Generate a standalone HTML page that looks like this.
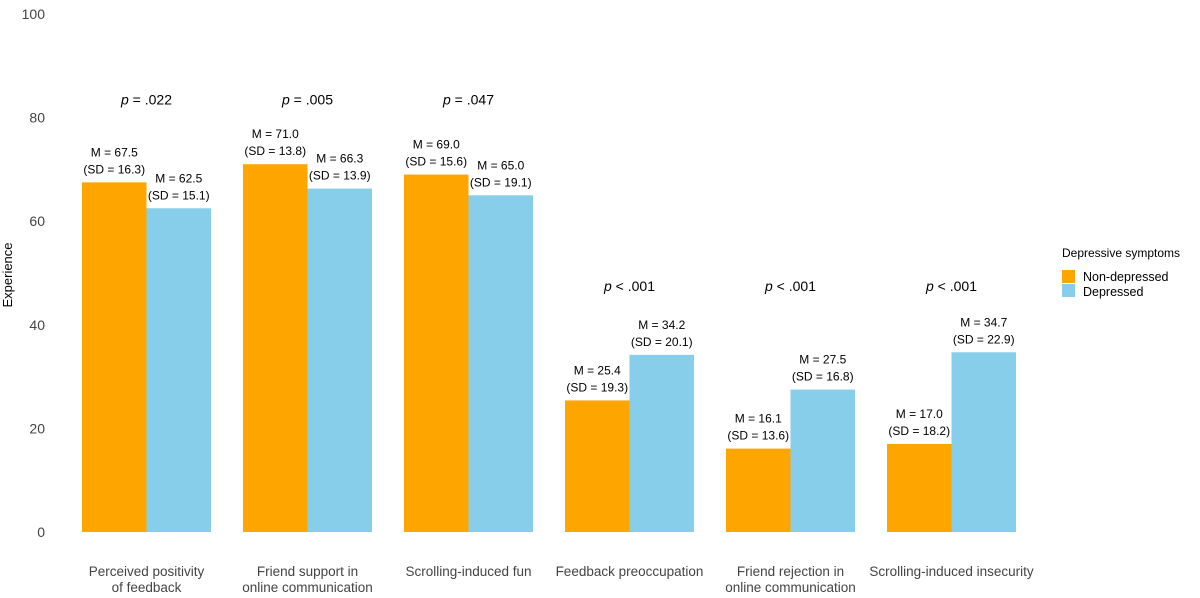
<!DOCTYPE html>
<html><head><meta charset="utf-8"><style>
body{margin:0;background:#fff}
svg{display:block;font-family:"Liberation Sans",Arial,sans-serif}
</style></head><body>
<svg id="chart" width="1200" height="598">
<text x="12" y="275" transform="rotate(-90 12 275)" text-anchor="middle" font-size="13" fill="#000">Experience</text>
<g id="yticks"></g>
<g id="bars"></g>
<g id="labels"></g>
<g>
<text x="1062" y="257" font-size="12" fill="#000">Depressive symptoms</text>
<rect x="1062" y="270" width="13" height="13" fill="#FFA500"/>
<text x="1083" y="281" font-size="12.5" fill="#000">Non-depressed</text>
<rect x="1062" y="284" width="13" height="13" fill="#87CEEB"/>
<text x="1083" y="296" font-size="12.5" fill="#000">Depressed</text>
</g>
</svg>
<script>
const categories=[["Perceived positivity","of feedback"],["Friend support in","online communication"],["Scrolling-induced fun"],["Feedback preoccupation"],["Friend rejection in","online communication"],["Scrolling-induced insecurity"]];
const nonDepMean=[67.5,71.0,69.0,25.4,16.1,17.0];
const nonDepSD=[16.3,13.8,15.6,19.3,13.6,18.2];
const depMean=[62.5,66.3,65.0,34.2,27.5,34.7];
const depSD=[15.1,13.9,19.1,20.1,16.8,22.9];
const pLabels=[".022",".005",".047",".001",".001",".001"];
const pOps=["=","=","=","<","<","<"];
const pLevel=[83.5,83.5,83.5,47.5,47.5,47.5];
const yTicks=[0,20,40,60,80,100];

const NS="http://www.w3.org/2000/svg";
const y=v=>532-5.18*v;
const cx=i=>146.5+i*161;
const bw=64.5;
function mk(tag,attrs,parent){const e=document.createElementNS(NS,tag);for(const k in attrs)e.setAttribute(k,attrs[k]);parent.appendChild(e);return e;}
const yt=document.getElementById('yticks'),bars=document.getElementById('bars'),lab=document.getElementById('labels');
yTicks.forEach(t=>{const e=mk('text',{x:45,y:y(t)+5,'text-anchor':'end','font-size':14,fill:'#444'},yt);e.textContent=t;

});
categories.forEach((c,i)=>{
 const r1=mk('rect',{x:cx(i)-bw,y:y(nonDepMean[i]),width:bw,height:y(0)-y(nonDepMean[i]),fill:'#FFA500'},bars);
 
 
 const r2=mk('rect',{x:cx(i),y:y(depMean[i]),width:bw,height:y(0)-y(depMean[i]),fill:'#87CEEB'},bars);
 
 
 [[nonDepMean[i],nonDepSD[i],cx(i)-bw/2],[depMean[i],depSD[i],cx(i)+bw/2]].forEach(([m,s,x],k)=>{
  const t=mk('text',{x:x,y:y(m)-26,'text-anchor':'middle','font-size':12,fill:'#000'},lab);t.textContent='M = '+m.toFixed(1);
  
  
  const t2=mk('text',{x:x,y:y(m)-9,'text-anchor':'middle','font-size':12,fill:'#000'},lab);t2.textContent='(SD = '+s.toFixed(1)+')';
  
  
 });
 const p=mk('text',{x:cx(i),y:y(pLevel[i])+5,'text-anchor':'middle','font-size':14,fill:'#000'},lab);
 p.innerHTML='<tspan font-style="italic">p</tspan> '+pOps[i]+' '+pLabels[i];
 
 
 c.forEach((line,j)=>{const t=mk('text',{x:cx(i),y:576+j*16,'text-anchor':'middle','font-size':13.5,fill:'#444'},lab);t.textContent=line;
 
 });
});
</script>
</body></html>
